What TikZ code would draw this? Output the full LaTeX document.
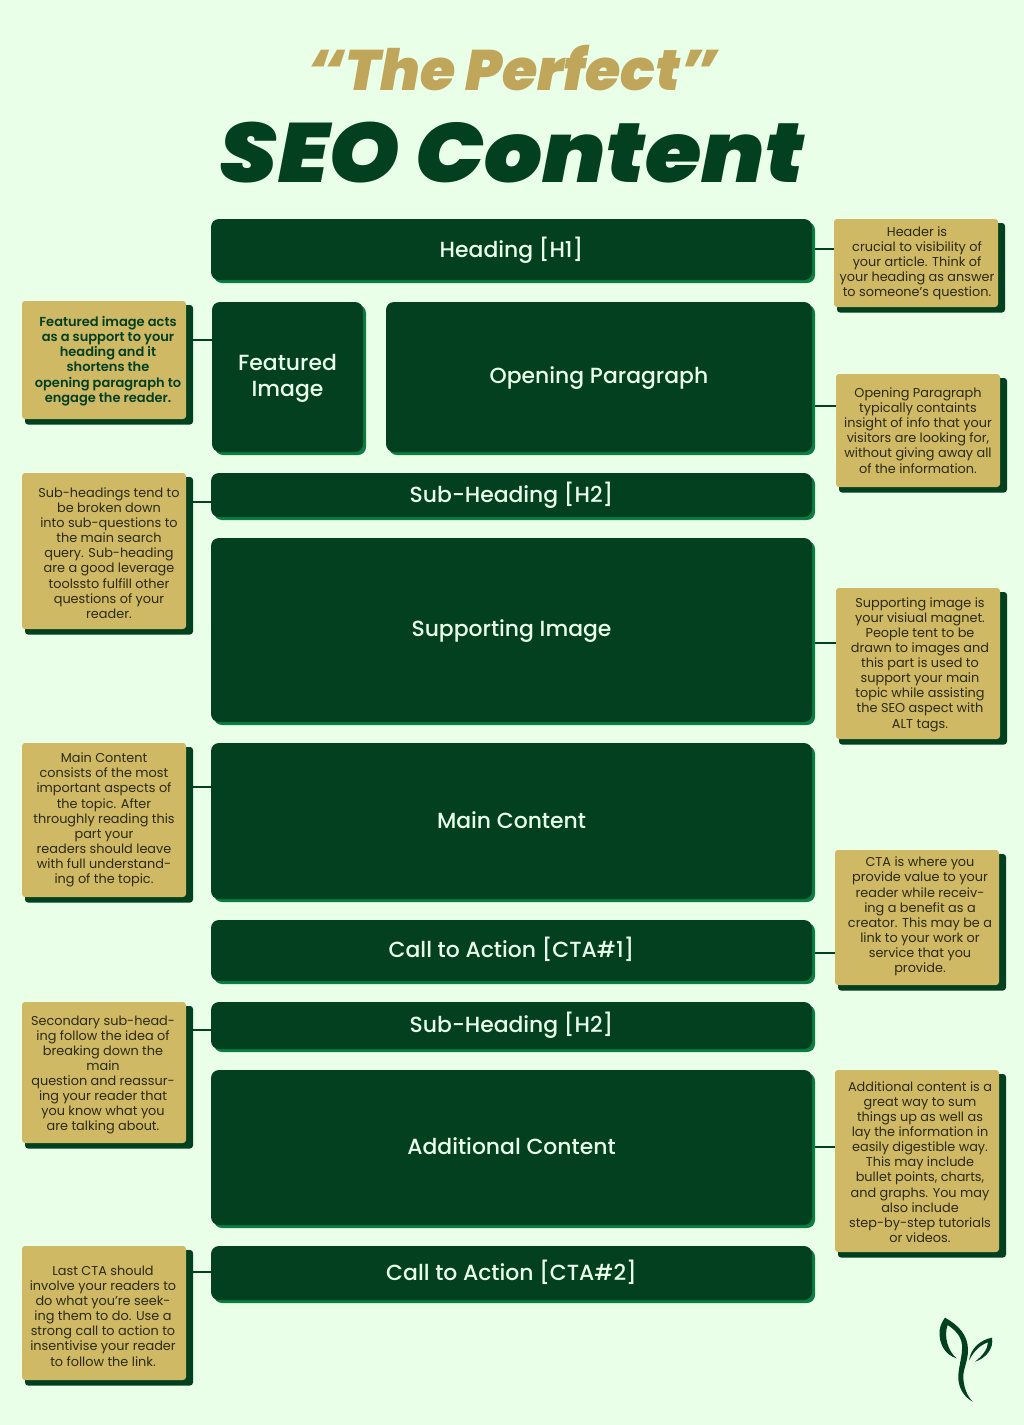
\documentclass[tikz,border=0pt]{standalone}
\usepackage{fontspec}
\setmainfont{Poppins}
\newfontfamily\titlefont[ItalicFont={Poppins Black Italic},BoldItalicFont={Poppins Black Italic}]{Poppins}
\newfontfamily\labelfont{Poppins Medium}
\newfontfamily\notebold{Poppins SemiBold}
\definecolor{pagebg}{HTML}{EAFFE8}
\definecolor{deepgreen}{HTML}{024020}
\definecolor{midgreen}{HTML}{0A7D42}
\definecolor{tan}{HTML}{D0B964}
\definecolor{titletan}{HTML}{BFA65A}
\definecolor{notetext}{HTML}{2B2A14}
\pgfdeclarelayer{conn}
\pgfdeclarelayer{shad}
\pgfsetlayers{conn,shad,main}
\tikzset{
  boxmain/.style={fill=deepgreen,rounded corners=8pt,inner sep=0pt},
  boxtxt/.style={inner sep=0pt,text=pagebg,align=center,font=\labelfont\fontsize{21.9}{26}\selectfont},
  boxshade/.style={fill=midgreen,rounded corners=8pt},
  notemain/.style={fill=tan,rounded corners=3pt,inner sep=0pt},
  noteshade/.style={fill=deepgreen,rounded corners=3pt},
  notetxt/.style={inner sep=0pt,align=center,text=notetext,font=\fontsize{12.85}{15.1}\selectfont},
  link/.style={draw=deepgreen,line width=2pt}
}
% name, x1, y1, x2, y2, text y, text
\newcommand\seobox[7]{%
  \begin{pgfonlayer}{shad}
    \path[boxshade] ({#2+3},{#3+3}) rectangle ({#4+3},{#5+3});
  \end{pgfonlayer}
  \node[boxmain,minimum width={(#4-#2)*1pt},minimum height={(#5-#3)*1pt}] (#1) at ({(#2+#4)/2},{(#3+#5)/2}) {};
  \node[boxtxt] (#1-text) at ({(#2+#4)/2},#6) {#7};
}
% name, x1, y1, x2, y2, text x, text y, text, extra style
\newcommand\seonote[9]{%
  \begin{pgfonlayer}{shad}
    \path[noteshade] ({#2+3},{#3+4}) rectangle ({#4+7},{#5+5.5});
  \end{pgfonlayer}
  \node[notemain,minimum width={(#4-#2)*1pt},minimum height={(#5-#3)*1pt}] (#1) at ({(#2+#4)/2},{(#3+#5)/2}) {};
  \node[notetxt,#9] (#1-text) at (#6,{#7+1}) {#8};
}
\newcommand\seolink[3]{%
  \begin{pgfonlayer}{conn}
    \draw[link] (#1 |- 0,#3) -- (#2 |- 0,#3);
  \end{pgfonlayer}
}
\begin{document}
\begin{tikzpicture}[x=1pt,y=-1pt]
\begin{pgfonlayer}{conn}
\path[use as bounding box,fill=pagebg] (0,0) rectangle (1024,1425);
\end{pgfonlayer}

\node[inner sep=0pt,text=titletan,font={\titlefont\itshape\fontsize{57}{60}\selectfont}] (title1) at (513,68) {“The Perfect”};
\node[inner sep=0pt,text=deepgreen,xscale=1.083,font={\titlefont\itshape\fontsize{84}{90}\selectfont}] (title2) at (512,153) {SEO Content};

\seobox{h1}{211}{219}{812}{280}{250.5}{Heading [H1]}
\seobox{fi}{212}{302}{363}{452}{378.5}{Featured\\Image}
\seobox{op}{386}{302}{812}{452}{378.5}{Opening Paragraph}
\seobox{h2a}{211}{473}{812}{517}{495}{Sub-Heading [H2]}
\seobox{si}{211}{538}{812}{722}{631.5}{Supporting Image}
\seobox{mc}{211}{743}{812}{899}{820}{Main Content}
\seobox{cta1}{211}{920}{812}{981}{949.5}{Call to Action [CTA\#1]}
\seobox{h2b}{211}{1002}{812}{1049}{1025.5}{Sub-Heading [H2]}
\seobox{ac}{211}{1070}{812}{1225}{1146}{Additional Content}
\seobox{cta2}{211}{1246}{812}{1300}{1272.5}{Call to Action [CTA\#2]}

\seonote{nh1}{834}{219}{998}{307}{917}{262}{Header is\\crucial to visibility of\\your article. Think of\\your heading as answer\\to someone’s question.}{}
\seonote{nop}{836}{374}{1000}{487}{918}{429.5}{Opening Paragraph\\typically containts\\insight of info that your\\visitors are looking for,\\without giving away all\\of the information.}{}
\seonote{nfi}{22}{301}{186}{419}{108}{360}{Featured image acts\\as a support to your\\heading and it\\shortens the\\opening paragraph to\\engage the reader.}{text=deepgreen,font=\notebold\fontsize{13}{15.2}\selectfont}
\seonote{nh2a}{22}{473}{186}{629}{109}{552}{Sub-headings tend to\\be broken down\\into sub-questions to\\the main search\\query. Sub-heading\\are a good leverage\\toolssto fulfill other\\questions of your\\reader.}{}
\seonote{nsi}{836}{588}{1000}{739}{920}{663.5}{Supporting image is\\your visiual magnet.\\People tent to be\\drawn to images and\\this part is used to\\support your main\\topic while assisting\\the SEO aspect with\\ALT tags.}{}
\seonote{nmc}{22}{743}{186}{897}{104}{819}{Main Content\\consists of the most\\important aspects of\\the topic. After\\throughly reading this\\part your\\readers should leave\\with full understand-\\ing of the topic.}{}
\seonote{ncta1}{835}{850}{999}{985}{920}{915.5}{CTA is where you\\provide value to your\\reader while receiv-\\ing a benefit as a\\creator. This may be a\\link to your work or\\service that you\\provide.}{}
\seonote{nh2b}{22}{1002}{186}{1143}{103}{1074}{Secondary sub-head-\\ing follow the idea of\\breaking down the\\main\\question and reassur-\\ing your reader that\\you know what you\\are talking about.}{}
\seonote{nac}{835}{1070}{999}{1252}{920}{1161}{Additional content is a\\great way to sum\\things up as well as\\lay the information in\\easily digestible way.\\This may include\\bullet points, charts,\\and graphs. You may\\also include\\step-by-step tutorials\\or videos.}{}
\seonote{ncta2}{22}{1246}{186}{1380}{103}{1315}{Last CTA should\\involve your readers to\\do what you’re seek-\\ing them to do. Use a\\strong call to action to\\insentivise your reader\\to follow the link.}{}

\seolink{h1.east}{nh1.west}{249}
\seolink{op.east}{nop.west}{406}
\seolink{nfi.east}{fi.west}{340}
\seolink{nh2a.east}{h2a.west}{502}
\seolink{si.east}{nsi.west}{643}
\seolink{nmc.east}{mc.west}{787}
\seolink{cta1.east}{ncta1.west}{953}
\seolink{nh2b.east}{h2b.west}{1030}
\seolink{ac.east}{nac.west}{1147}
\seolink{ncta2.east}{cta2.west}{1272}

% sprout logo
\begin{scope}[shift={(880,1290)},x=0.3333pt,y=-0.3333pt]
\fill[deepgreen] (195,83) .. controls (235,105) and (264,135) .. (264,180)
  .. controls (264,215) and (248,240) .. (250,265)
  .. controls (252,295) and (262,318) .. (278,335)
  .. controls (250,320) and (233,290) .. (235,255)
  .. controls (237,225) and (248,195) .. (246,165)
  .. controls (243,135) and (222,118) .. (203,105)
  .. controls (190,140) and (205,185) .. (230,205)
  .. controls (195,195) and (175,160) .. (179,120)
  .. controls (181,105) and (188,93) .. (195,83) -- cycle;
\fill[deepgreen] (267,212) .. controls (272,175) and (300,150) .. (336,143)
  .. controls (342,175) and (318,205) .. (285,215)
  .. controls (308,197) and (323,178) .. (324,157)
  .. controls (300,165) and (280,185) .. (267,212) -- cycle;
\end{scope}
\end{tikzpicture}
\end{document}
